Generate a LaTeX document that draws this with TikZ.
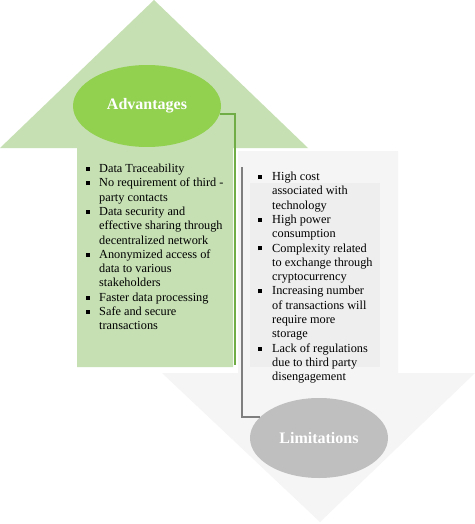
\documentclass[tikz,border=0pt]{standalone}
\usepackage{fontspec}
\setmainfont{Liberation Serif}
\usetikzlibrary{shapes.geometric}
\definecolor{upgreen}{HTML}{C6E0B4}
\definecolor{ellgreen}{HTML}{92D050}
\definecolor{linegreen}{HTML}{70AD47}
\definecolor{downgray}{HTML}{F5F5F5}
\definecolor{boxgray}{HTML}{EEEEEE}
\definecolor{ellgray}{HTML}{BFBFBF}
\definecolor{linegray}{HTML}{7F7F7F}
\newcommand{\bsq}{\rule[0.28ex]{4pt}{4pt}}
\tikzset{
  header/.style={ellipse, inner sep=0pt, text=white, font=\fontsize{16}{19}\selectfont\bfseries},
  listtext/.style={inner sep=0pt, anchor=base west, font=\fontsize{12.3}{14.3}\selectfont},
  gline/.style={draw=linegreen, line width=2pt},
  kline/.style={draw=linegray, line width=2pt},
}
\begin{document}
\begin{tikzpicture}[x=1pt,y=-1pt]
\useasboundingbox[fill=white] (0,0) rectangle (474,524);
% down arrow (limitations)
\fill[downgray] (238,151) -- (398,151) -- (398,373) -- (475,373) -- (320,522) -- (162,373) -- (238,373) -- cycle;
\fill[boxgray] (250,183) rectangle (380,367);
% up arrow (advantages)
\fill[upgreen] (77,367) -- (77,148) -- (0,148) -- (154,0) -- (308,148) -- (233,148) -- (233,367) -- cycle;
% headers
\node[header, fill=ellgreen, minimum width=148pt, minimum height=82pt] (adv) at (147,106) {Advantages};
\node[header, fill=ellgray, minimum width=138pt, minimum height=80pt] (lim) at (319,438) {Limitations};
% connectors
\coordinate (g2) at (235,365);
\coordinate (k1) at (242,167);
\draw[gline] (adv.-6) -| (g2);
\draw[kline] (k1) |- (lim.160);
% lists
\node[listtext] (advlist) at (86,172.5) {\begin{tabular}[t]{@{}l@{\hspace{9pt}}l@{}}
\bsq & Data Traceability\\
\bsq & No requirement of third -\\
 & party contacts\\
\bsq & Data security and\\
 & effective sharing through\\
 & decentralized network\\
\bsq & Anonymized access of\\
 & data to various\\
 & stakeholders\\
\bsq & Faster data processing\\
\bsq & Safe and secure\\
 & transactions
\end{tabular}};
\node[listtext] (limlist) at (258,180.5) {\begin{tabular}[t]{@{}l@{\hspace{10pt}}l@{}}
\bsq & High cost\\
 & associated with\\
 & technology\\
\bsq & High power\\
 & consumption\\
\bsq & Complexity related\\
 & to exchange through\\
 & cryptocurrency\\
\bsq & Increasing number\\
 & of transactions will\\
 & require more\\
 & storage\\
\bsq & Lack of regulations\\
 & due to third party\\
 & disengagement
\end{tabular}};
\end{tikzpicture}
\end{document}
